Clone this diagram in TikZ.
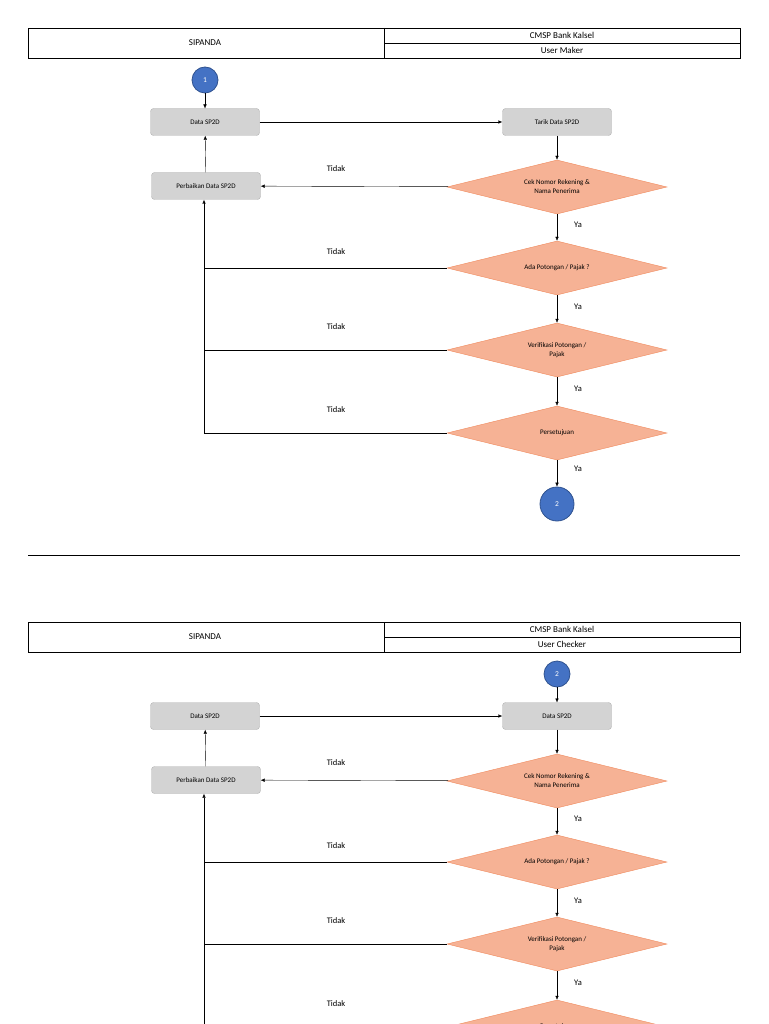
\documentclass[tikz,border=0pt]{standalone}
\usepackage{fontspec}
\setmainfont{Carlito}
\usetikzlibrary{shapes.geometric,arrows.meta}
\definecolor{boxg}{HTML}{D3D3D3}
\definecolor{dia}{HTML}{F4A582}
\definecolor{diab}{HTML}{F08A5D}
\definecolor{cblue}{HTML}{4472C4}
\definecolor{cblueb}{HTML}{2F528F}
\tikzset{
 proc/.style={draw=gray!60,fill=boxg,rounded corners=3pt,minimum width=109pt,minimum height=27pt,font=\fontsize{7}{8}\selectfont,inner sep=1pt},
 dec/.style={diamond,aspect=4.07,draw=diab,fill=dia!85,minimum width=220pt,minimum height=54pt,inner sep=0pt,align=center,font=\fontsize{7}{9}\selectfont},
 con/.style={circle,draw=cblueb,thick,fill=cblue,text=white,font=\fontsize{7.5}{8}\selectfont,inner sep=0pt},
 arr/.style={draw=black,-{Latex[length=4pt,width=3.5pt]}},
 ln/.style={draw=black},
 lbl/.style={font=\fontsize{8.5}{9}\selectfont},
 hd/.style={font=\fontsize{9}{10}\selectfont},
}
\begin{document}
\begin{tikzpicture}[x=1pt,y=-1pt]
\useasboundingbox (0,0) rectangle (768,1024);
\clip (0,0) rectangle (768,1024);
\foreach \o/\usr/\rbox in {0/User Maker/Tarik Data SP2D,594/User Checker/Data SP2D}{
\begin{scope}[yshift=-\o]
 \draw[line width=0.6pt] (28,28) rectangle (740,58);
 \draw[line width=0.6pt] (384,28) -- (384,58) (384,43) -- (740,43);
 \node[hd] (hs) at (205,43) {SIPANDA};
 \node[hd] (hc) at (562,35.5) {CMSP Bank Kalsel};
 \node[hd] (hu) at (562,50.5) {\usr};
 \node[proc] (d1) at (205,122) {Data SP2D};
 \node[proc] (d2) at (557,122) {\rbox};
 \node[proc] (pb) at (206,186) {Perbaikan Data SP2D};
 \node[dec] (q1) at (557,187) {Cek Nomor Rekening \&\\Nama Penerima};
 \node[dec] (q2) at (557,268) {Ada Potongan / Pajak ?};
 \node[dec] (q3) at (557,350) {Verifikasi Potongan /\\Pajak};
 \node[dec] (q4) at (557,433) {Persetujuan};
 \draw[arr] (d1) -- (d2);
 \draw[arr] (d2) -- (q1);
 \draw[arr] (q1) -- (pb);
 \draw[arr] (pb) -- (d1);
 \draw[arr] (q1) -- (q2);
 \draw[arr] (q2) -- (q3);
 \draw[arr] (q3) -- (q4);
 \coordinate (j2) at (204,268);
 \coordinate (j3) at (204,350);
 \coordinate (j4) at (204,433);
 \draw[ln] (q2.west) -- (j2);
 \draw[ln] (q3.west) -- (j3);
 \draw[ln] (q4.west) -- (j4);
 \draw[arr] (j4) -- (pb.south -| j4);
 \foreach \y in {169,252,327,410} \node[lbl] at (336,\y) {Tidak};
 \foreach \y in {225,307,389} \node[lbl] at (578,\y) {Ya};
\end{scope}
}
\node[lbl] at (578,469) {Ya};
\node[con,minimum size=26pt] (c1) at (205,80) {1};
\draw[arr] (c1) -- (205,108.5);
\node[con,minimum size=34pt] (c2) at (557,504) {2};
\draw[arr] (557,460) -- (c2);
\draw[ln] (28,555) -- (740,555);
\node[con,minimum size=26pt] (c3) at (557,674) {2};
\draw[arr] (c3) -- (557,702.5);
\end{tikzpicture}
\end{document}
